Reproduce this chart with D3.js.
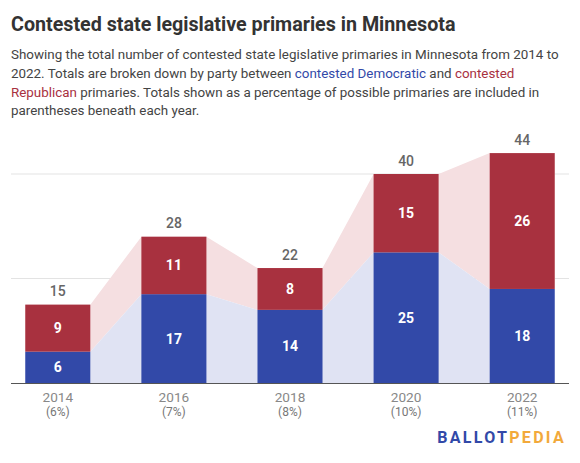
<!DOCTYPE html>
<html>
<head>
<meta charset="utf-8">
<script src="https://cdn.jsdelivr.net/npm/d3@7"></script>
<style>
  body { margin: 0; background: #fff; font-family: Roboto, "Noto Sans", sans-serif; }
  svg { display: block; }
</style>
</head>
<body>
<div id="chart"></div>
<script>
// Chart data
const years = ["2014", "2016", "2018", "2020", "2022"];
const percents = ["(6%)", "(7%)", "(8%)", "(10%)", "(11%)"];
const democratic = [6, 17, 14, 25, 18];
const republican = [9, 11, 8, 15, 26];
const gridTicks = [20, 40];

const width = 580;
const height = 463;
const margin = { left: 11, right: 11 };
const baseY = 383;

const blue = "#3249a8";
const red = "#a8313f";

const svg = d3.select("#chart")
    .append("svg")
    .attr("width", width)
    .attr("height", height);

// Title and description
svg.append("text")
    .attr("x", 11)
    .attr("y", 30.5)
    .attr("font-size", 19.7)
    .attr("font-weight", 700)
    .attr("fill", "#333")
    .text("Contested state legislative primaries in Minnesota");

const lines = [
    [["Showing the total number of contested state legislative primaries in Minnesota from 2014 to", "#444"]],
    [["2022. Totals are broken down by party between ", "#444"], ["contested Democratic", blue], [" and ", "#444"], ["contested", red]],
    [["Republican", red], [" primaries. Totals shown as a percentage of possible primaries are included in", "#444"]],
    [["parentheses beneath each year.", "#444"]]
];
lines.forEach((parts, i) => {
    const t = svg.append("text")
        .attr("x", 11)
        .attr("y", 59.3 + i * 18.6)
        .attr("font-size", 13.4);
    parts.forEach(p => t.append("tspan").attr("fill", p[1]).text(p[0]));
});

// Scales
const x = d3.scaleBand()
    .domain(years)
    .range([margin.left, width - margin.right])
    .paddingInner(0.44)
    .paddingOuter(0.123);

const y = d3.scaleLinear()
    .domain([0, 40])
    .range([baseY, 174]);

const data = years.map((yr, i) => ({
    year: yr,
    pct: percents[i],
    dem: democratic[i],
    rep: republican[i],
    total: democratic[i] + republican[i]
}));

// Gridlines
svg.append("g")
    .selectAll("line")
    .data(gridTicks)
    .enter().append("line")
    .attr("x1", margin.left)
    .attr("x2", width - margin.right)
    .attr("y1", d => y(d))
    .attr("y2", d => y(d))
    .attr("stroke", "#e3e3e3")
    .attr("stroke-width", 1);

// Connecting areas between bars
const edgePts = [];
data.forEach(d => {
    edgePts.push({ x: x(d.year), d });
    edgePts.push({ x: x(d.year) + x.bandwidth(), d });
});

svg.append("path")
    .datum(edgePts)
    .attr("fill", "#f5dfe1")
    .attr("d", d3.area()
        .x(p => p.x)
        .y0(p => y(p.d.dem))
        .y1(p => y(p.d.total)));

svg.append("path")
    .datum(edgePts)
    .attr("fill", "#e0e3f3")
    .attr("d", d3.area()
        .x(p => p.x)
        .y0(y(0))
        .y1(p => y(p.d.dem)));

// Bars
const bars = svg.append("g");
bars.selectAll(".dem")
    .data(data)
    .enter().append("rect")
    .attr("x", d => x(d.year))
    .attr("width", x.bandwidth())
    .attr("y", d => y(d.dem))
    .attr("height", d => y(0) - y(d.dem))
    .attr("fill", blue);

bars.selectAll(".rep")
    .data(data)
    .enter().append("rect")
    .attr("x", d => x(d.year))
    .attr("width", x.bandwidth())
    .attr("y", d => y(d.total))
    .attr("height", d => y(d.dem) - y(d.total))
    .attr("fill", red);

// Labels inside bars
const cx = d => x(d.year) + x.bandwidth() / 2;
svg.append("g")
    .selectAll("text")
    .data(data)
    .enter().append("text")
    .attr("x", cx)
    .attr("y", d => (y(0) + y(d.dem)) / 2 + 5)
    .attr("text-anchor", "middle")
    .attr("font-size", 14)
    .attr("font-weight", 700)
    .attr("fill", "#fff")
    .text(d => d.dem);

svg.append("g")
    .selectAll("text")
    .data(data)
    .enter().append("text")
    .attr("x", cx)
    .attr("y", d => (y(d.dem) + y(d.total)) / 2 + 5)
    .attr("text-anchor", "middle")
    .attr("font-size", 14)
    .attr("font-weight", 700)
    .attr("fill", "#fff")
    .text(d => d.rep);

// Totals above bars
svg.append("g")
    .selectAll("text")
    .data(data)
    .enter().append("text")
    .attr("x", cx)
    .attr("y", d => y(d.total) - 8.5)
    .attr("text-anchor", "middle")
    .attr("font-size", 14)
    .attr("font-weight", 500)
    .attr("fill", "#666")
    .text(d => d.total);

// Baseline
svg.append("line")
    .attr("x1", margin.left)
    .attr("x2", width - margin.right)
    .attr("y1", y(0) + 0.5)
    .attr("y2", y(0) + 0.5)
    .attr("stroke", "#555")
    .attr("stroke-width", 1);

// X-axis labels
const xl = svg.append("g")
    .selectAll("g")
    .data(data)
    .enter().append("g");
xl.append("text")
    .attr("x", cx)
    .attr("y", 402.3)
    .attr("text-anchor", "middle")
    .attr("font-size", 13.6)
    .attr("fill", "#888")
    .text(d => d.year);
xl.append("text")
    .attr("x", cx)
    .attr("y", 416)
    .attr("text-anchor", "middle")
    .attr("font-size", 12)
    .attr("fill", "#777")
    .text(d => d.pct);

// Logo
const logo = svg.append("text")
    .attr("x", 566)
    .attr("y", 443)
    .attr("text-anchor", "end")
    .attr("font-size", 16)
    .attr("font-weight", 700)
    .attr("letter-spacing", 2.3);
logo.append("tspan").attr("fill", blue).text("BALLOT");
logo.append("tspan").attr("fill", "#f2a93b").text("PEDIA");
</script>
</body>
</html>
